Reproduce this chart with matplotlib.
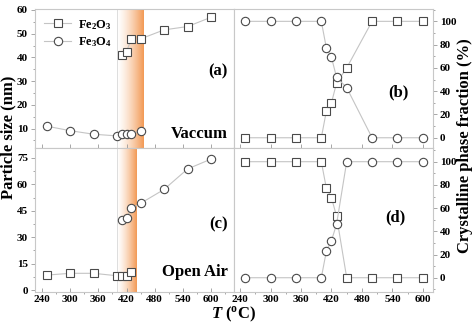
import numpy as np
import matplotlib
matplotlib.use("Agg")
import matplotlib.pyplot as plt
from matplotlib.ticker import MultipleLocator

plt.rcParams['font.family'] = 'Liberation Serif'
plt.rcParams['font.weight'] = 'bold'
plt.rcParams['mathtext.fontset'] = 'custom'
plt.rcParams['mathtext.rm'] = 'Liberation Serif:bold'
plt.rcParams['mathtext.bf'] = 'Liberation Serif:bold'
plt.rcParams['mathtext.it'] = 'Liberation Serif:italic:bold'

# particle size (nm), vacuum anneal
t_fe2o3_vac = [410, 420, 430, 450, 500, 550, 600]
size_fe2o3_vac = [41.0, 42.4, 47.6, 47.8, 51.6, 53.0, 56.9]
t_fe3o4_vac = [250, 300, 350, 400, 410, 420, 430, 450]
size_fe3o4_vac = [11.0, 9.1, 7.6, 6.9, 7.8, 7.6, 7.7, 9.1]

# particle size (nm), open air anneal
t_fe2o3_air = [250, 300, 350, 400, 410, 420, 430]
size_fe2o3_air = [8.5, 9.5, 9.5, 8.1, 8.1, 8.1, 10.0]
t_fe3o4_air = [410, 420, 430, 450, 500, 550, 600]
size_fe3o4_air = [39.7, 40.7, 46.4, 49.2, 57.1, 68.7, 74.3]

# crystalline phase fraction (%)
t_phase = [250, 300, 350, 400, 410, 420, 430, 450, 500, 550, 600]
frac_fe2o3_vac = [0, 0, 0, 0, 23, 30, 47, 60, 100, 100, 100]
frac_fe3o4_vac = [100, 100, 100, 100, 77, 69, 52, 43, 0, 0, 0]
frac_fe2o3_air = [100, 100, 100, 100, 77, 69, 53, 0, 0, 0, 0]
frac_fe3o4_air = [0, 0, 0, 0, 23, 32, 46, 100, 100, 100, 100]

W, H = 474, 326
fig = plt.figure(figsize=(W / 100, H / 100), dpi=100)

def box(x0, y0, x1, y1):
    return [x0 / W, 1 - y1 / H, (x1 - x0) / W, (y1 - y0) / H]

ax_a = fig.add_axes(box(35, 9, 234, 148))
ax_b = fig.add_axes(box(234, 9, 433, 148))
ax_c = fig.add_axes(box(35, 148, 234, 292))
ax_d = fig.add_axes(box(234, 148, 433, 292))

line_kw = dict(color='#c4c4c4', lw=0.8, mfc='white', mec='#4a4a4a', mew=0.8, ms=6)
sq = dict(marker='s', **line_kw)
ci = dict(marker='o', **line_kw)
frame = '#c8c8c8'

def style(ax, right=False, bottom_labels=False):
    for s in ax.spines.values():
        s.set_color(frame)
        s.set_linewidth(0.8)
    ax.xaxis.set_major_locator(MultipleLocator(60))
    ax.xaxis.set_minor_locator(MultipleLocator(30))
    ax.tick_params(axis='both', which='both', colors='#999999', labelcolor='black',
                   labelsize=8, width=0.6)
    ax.tick_params(axis='both', which='major', length=3)
    ax.tick_params(axis='both', which='minor', length=1.5)
    ax.tick_params(axis='x', direction='in', labelbottom=bottom_labels, pad=2)
    if right:
        ax.yaxis.tick_right()
    ax.tick_params(axis='y', pad=2)
    for lab in ax.get_xticklabels() + ax.get_yticklabels():
        lab.set_fontweight('bold')

def band(ax, x0, x1, y0, y1):
    t = np.linspace(0, 1, 200) ** 1.4
    c0 = np.array([1.0, 1.0, 1.0])
    c1 = np.array([0.95, 0.60, 0.33])
    img = (c0[None, :] * (1 - t[:, None]) + c1[None, :] * t[:, None])[None, :, :]
    ax.imshow(img, extent=[x0, x1, y0, y1], aspect='auto', zorder=0,
              interpolation='bilinear')
    ax.axvline(x0, color='#d8d8d8', lw=0.6, zorder=0.5)

# (a) vacuum particle size
band(ax_a, 400, 457, 1.8, 60.4)
ax_a.plot(t_fe2o3_vac, size_fe2o3_vac, label='Fe$_2$O$_3$', **sq)
ax_a.plot(t_fe3o4_vac, size_fe3o4_vac, label='Fe$_3$O$_4$', **ci)
ax_a.set_xlim(225, 649)
ax_a.set_ylim(1.8, 60.4)
ax_a.yaxis.set_major_locator(MultipleLocator(10))
ax_a.yaxis.set_minor_locator(MultipleLocator(5))
style(ax_a)
leg = ax_a.legend(loc='upper left', frameon=False, fontsize=9, handlelength=2.2,
                  borderaxespad=0.3, labelspacing=0.3, handletextpad=0.5)
ax_a.text(0.97, 0.55, '(a)', transform=ax_a.transAxes, ha='right', va='center',
          fontsize=12, fontweight='bold')
ax_a.text(0.97, 0.10, 'Vaccum', transform=ax_a.transAxes, ha='right', va='center',
          fontsize=12, fontweight='bold')

# (b) vacuum phase fraction
ax_b.plot(t_phase, frac_fe2o3_vac, **sq)
ax_b.plot(t_phase, frac_fe3o4_vac, **ci)
ax_b.set_xlim(228, 620)
ax_b.set_ylim(-8.8, 110.6)
ax_b.yaxis.set_major_locator(MultipleLocator(20))
ax_b.yaxis.set_minor_locator(MultipleLocator(10))
style(ax_b, right=True)
ax_b.text(0.88, 0.40, '(b)', transform=ax_b.transAxes, ha='right', va='center',
          fontsize=12, fontweight='bold')

# (c) open air particle size
band(ax_c, 400, 441, -1.1, 80.6)
ax_c.plot(t_fe2o3_air, size_fe2o3_air, **sq)
ax_c.plot(t_fe3o4_air, size_fe3o4_air, **ci)
ax_c.set_xlim(225, 649)
ax_c.set_ylim(-1.1, 80.6)
ax_c.yaxis.set_major_locator(MultipleLocator(15))
ax_c.yaxis.set_minor_locator(MultipleLocator(7.5))
style(ax_c, bottom_labels=True)
ax_c.text(0.97, 0.47, '(c)', transform=ax_c.transAxes, ha='right', va='center',
          fontsize=12, fontweight='bold')
ax_c.text(0.97, 0.14, 'Open Air', transform=ax_c.transAxes, ha='right', va='center',
          fontsize=12, fontweight='bold')

# (d) open air phase fraction
ax_d.plot(t_phase, frac_fe2o3_air, **sq)
ax_d.plot(t_phase, frac_fe3o4_air, **ci)
ax_d.set_xlim(228, 620)
ax_d.set_ylim(-12.3, 111.8)
ax_d.yaxis.set_major_locator(MultipleLocator(20))
ax_d.yaxis.set_minor_locator(MultipleLocator(10))
style(ax_d, right=True, bottom_labels=True)
ax_d.text(0.86, 0.52, '(d)', transform=ax_d.transAxes, ha='right', va='center',
          fontsize=12, fontweight='bold')

fig.text(8 / W, 1 - 137 / H, 'Particle size (nm)', rotation=90, ha='center',
         va='center', fontsize=12, fontweight='bold')
fig.text(465 / W, 1 - 146 / H, 'Crystalline phase fraction (%)', rotation=90,
         ha='center', va='center', fontsize=12, fontweight='bold')
fig.text(234 / W, 1 - 314 / H, r'$\mathit{T}$ ($^{\rm o}$C)', ha='center',
         va='center', fontsize=12)

fig.savefig('out.png', dpi=100)
